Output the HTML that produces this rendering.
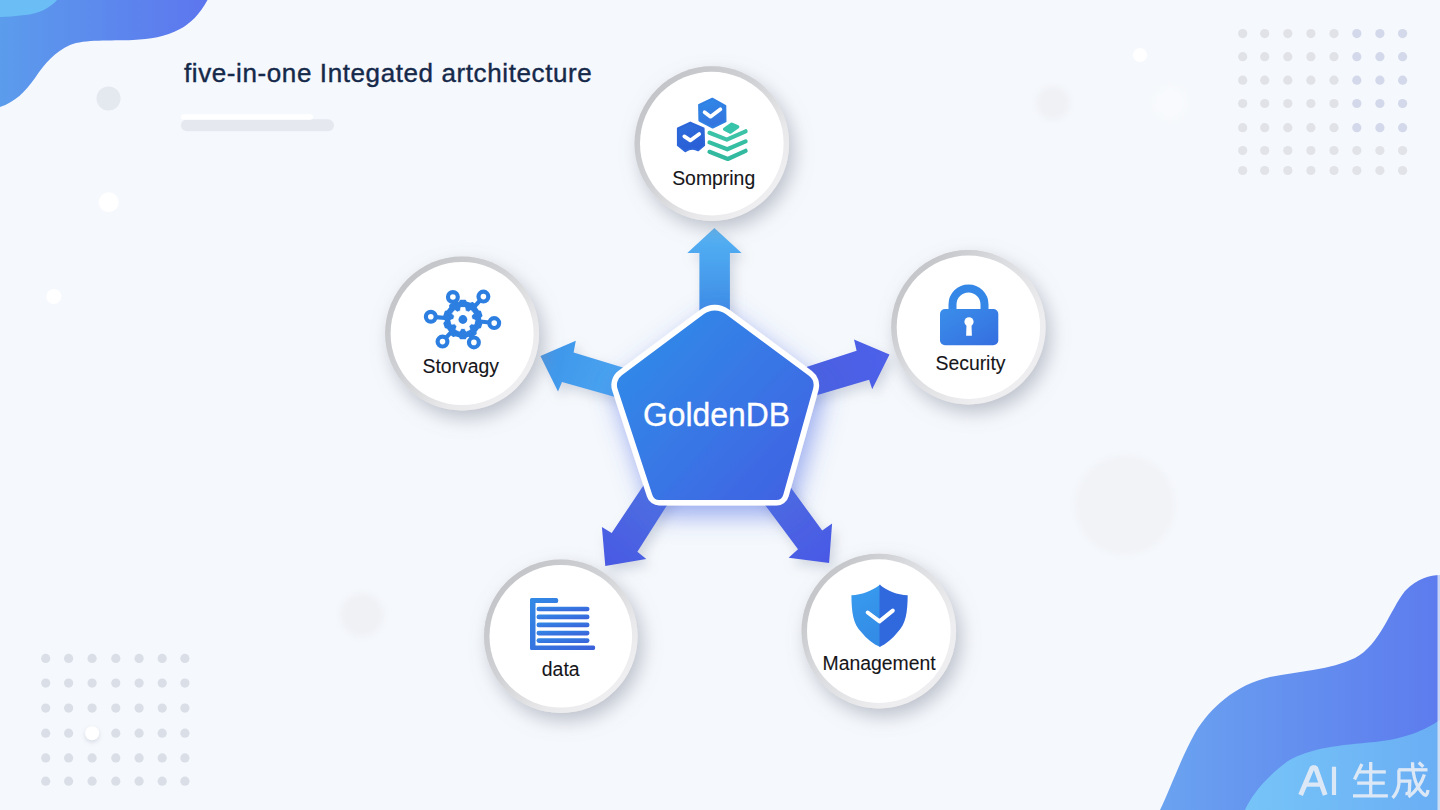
<!DOCTYPE html>
<html><head><meta charset="utf-8"><style>
html,body{margin:0;padding:0;}
body{width:1440px;height:810px;overflow:hidden;background:#f5f8fc;position:relative;font-family:"Liberation Sans",sans-serif;}
svg{position:absolute;left:0;top:0;}
.t{position:absolute;white-space:nowrap;line-height:1;}
</style></head><body>
<svg width="1440" height="810" viewBox="0 0 1440 810">
<defs>
<linearGradient id="bg" x1="0" y1="0" x2="1" y2="1"><stop offset="0" stop-color="#f5f8fc"/><stop offset="1" stop-color="#f5f8fc"/></linearGradient>
<linearGradient id="ring2" x1="0" y1="0.4" x2="0.6" y2="0.9"><stop offset="0" stop-color="#c6c7ca"/><stop offset="0.45" stop-color="#dcdde0"/><stop offset="1" stop-color="#eeeef0"/></linearGradient>
<linearGradient id="ring" x1="0" y1="0.25" x2="0.75" y2="1"><stop offset="0" stop-color="#c3c4c8"/><stop offset="0.4" stop-color="#d0d1d4"/><stop offset="0.75" stop-color="#e9e9eb"/><stop offset="1" stop-color="#f0f0f2"/></linearGradient>
<linearGradient id="pg" gradientUnits="userSpaceOnUse" x1="620" y1="320" x2="810" y2="500"><stop offset="0" stop-color="#2f8ee9"/><stop offset="1" stop-color="#4160e2"/></linearGradient>
<linearGradient id="agUp" gradientUnits="userSpaceOnUse" x1="714" y1="228" x2="714" y2="310"><stop offset="0" stop-color="#55b4f5"/><stop offset="1" stop-color="#3e8de6"/></linearGradient>
<linearGradient id="agL" gradientUnits="userSpaceOnUse" x1="540" y1="356" x2="620" y2="385"><stop offset="0" stop-color="#3e95ea"/><stop offset="1" stop-color="#4aa5f0"/></linearGradient>
<linearGradient id="agR" gradientUnits="userSpaceOnUse" x1="810" y1="380" x2="890" y2="355"><stop offset="0" stop-color="#4a60e0"/><stop offset="1" stop-color="#4d60ea"/></linearGradient>
<linearGradient id="agLL" gradientUnits="userSpaceOnUse" x1="655" y1="495" x2="605" y2="566"><stop offset="0" stop-color="#4f6fe0"/><stop offset="1" stop-color="#4858e4"/></linearGradient>
<linearGradient id="agLR" gradientUnits="userSpaceOnUse" x1="775" y1="495" x2="829" y2="563"><stop offset="0" stop-color="#4f6ae0"/><stop offset="1" stop-color="#4858e6"/></linearGradient>
<linearGradient id="blobTL" x1="0" y1="0" x2="1" y2="0"><stop offset="0" stop-color="#5b9cec"/><stop offset="1" stop-color="#5d76ee"/></linearGradient>
<linearGradient id="blobBR" x1="0" y1="0" x2="1" y2="0"><stop offset="0" stop-color="#6aa3f0"/><stop offset="1" stop-color="#5d7bee"/></linearGradient>
<linearGradient id="blobBR2" x1="0" y1="0" x2="1" y2="0"><stop offset="0" stop-color="#76c4f8"/><stop offset="1" stop-color="#6aaef4"/></linearGradient>
<filter id="nshadow" x="-40%" y="-40%" width="180%" height="190%"><feDropShadow dx="5" dy="8" stdDeviation="9" flood-color="#868c9c" flood-opacity="0.5"/></filter>
<filter id="ashadow" x="-40%" y="-40%" width="180%" height="180%"><feDropShadow dx="4" dy="6" stdDeviation="6" flood-color="#8a94ad" flood-opacity="0.35"/></filter>
<filter id="pshadow" x="-40%" y="-40%" width="180%" height="180%"><feDropShadow dx="4" dy="10" stdDeviation="12" flood-color="#4a66e4" flood-opacity="0.55"/></filter>
<filter id="softsh" x="-100%" y="-100%" width="300%" height="300%"><feDropShadow dx="0" dy="2" stdDeviation="2" flood-color="#9aa3b8" flood-opacity="0.35"/></filter>
<filter id="blur6"><feGaussianBlur stdDeviation="3"/></filter>
</defs>
<rect width="1440" height="810" fill="url(#bg)"/>
<!-- faint deco circles -->
<circle cx="108.5" cy="98.5" r="12" fill="#e4e8ef"/>
<circle cx="108.7" cy="202.3" r="10" fill="#ffffff"/>
<circle cx="53.8" cy="296.4" r="7.5" fill="#ffffff"/>
<circle cx="1140" cy="55" r="7" fill="#ffffff"/>
<circle cx="1053" cy="103" r="17" fill="#eff1f5" filter="url(#blur6)"/>
<circle cx="1170" cy="103" r="18" fill="#f8fafd" filter="url(#blur6)"/>
<circle cx="1125" cy="505" r="50" fill="#f1f3f7" filter="url(#blur6)"/>
<circle cx="362" cy="615" r="22" fill="#eff1f5" filter="url(#blur6)"/>
<g><circle cx="1242.7" cy="33.6" r="4.6" fill="#e0e2e8"/><circle cx="1264.7" cy="33.6" r="4.6" fill="#e0e2e8"/><circle cx="1287.8" cy="33.6" r="4.6" fill="#e0e2e8"/><circle cx="1310.9" cy="33.6" r="4.6" fill="#e0e2e8"/><circle cx="1334" cy="33.6" r="4.6" fill="#e0e2e8"/><circle cx="1356.8" cy="33.6" r="4.6" fill="#d3d9ea"/><circle cx="1379.9" cy="33.6" r="4.6" fill="#d3d9ea"/><circle cx="1402.6" cy="33.6" r="4.6" fill="#d3d9ea"/><circle cx="1242.7" cy="56.7" r="4.6" fill="#e0e2e8"/><circle cx="1264.7" cy="56.7" r="4.6" fill="#e0e2e8"/><circle cx="1287.8" cy="56.7" r="4.6" fill="#e0e2e8"/><circle cx="1310.9" cy="56.7" r="4.6" fill="#e0e2e8"/><circle cx="1334" cy="56.7" r="4.6" fill="#e0e2e8"/><circle cx="1356.8" cy="56.7" r="4.6" fill="#d3d9ea"/><circle cx="1379.9" cy="56.7" r="4.6" fill="#d3d9ea"/><circle cx="1402.6" cy="56.7" r="4.6" fill="#d3d9ea"/><circle cx="1242.7" cy="80.2" r="4.6" fill="#e0e2e8"/><circle cx="1264.7" cy="80.2" r="4.6" fill="#e0e2e8"/><circle cx="1287.8" cy="80.2" r="4.6" fill="#e0e2e8"/><circle cx="1310.9" cy="80.2" r="4.6" fill="#e0e2e8"/><circle cx="1334" cy="80.2" r="4.6" fill="#e0e2e8"/><circle cx="1356.8" cy="80.2" r="4.6" fill="#d3d9ea"/><circle cx="1379.9" cy="80.2" r="4.6" fill="#d3d9ea"/><circle cx="1402.6" cy="80.2" r="4.6" fill="#d3d9ea"/><circle cx="1242.7" cy="103.5" r="4.6" fill="#e0e2e8"/><circle cx="1264.7" cy="103.5" r="4.6" fill="#e0e2e8"/><circle cx="1287.8" cy="103.5" r="4.6" fill="#e0e2e8"/><circle cx="1310.9" cy="103.5" r="4.6" fill="#e0e2e8"/><circle cx="1334" cy="103.5" r="4.6" fill="#e0e2e8"/><circle cx="1356.8" cy="103.5" r="4.6" fill="#d3d9ea"/><circle cx="1379.9" cy="103.5" r="4.6" fill="#d3d9ea"/><circle cx="1402.6" cy="103.5" r="4.6" fill="#d3d9ea"/><circle cx="1242.7" cy="127.7" r="4.6" fill="#e0e2e8"/><circle cx="1264.7" cy="127.7" r="4.6" fill="#e0e2e8"/><circle cx="1287.8" cy="127.7" r="4.6" fill="#e0e2e8"/><circle cx="1310.9" cy="127.7" r="4.6" fill="#e0e2e8"/><circle cx="1334" cy="127.7" r="4.6" fill="#e0e2e8"/><circle cx="1356.8" cy="127.7" r="4.6" fill="#d3d9ea"/><circle cx="1379.9" cy="127.7" r="4.6" fill="#d3d9ea"/><circle cx="1402.6" cy="127.7" r="4.6" fill="#d3d9ea"/><circle cx="1242.7" cy="150.5" r="4.6" fill="#e1e3e8"/><circle cx="1264.7" cy="150.5" r="4.6" fill="#e1e3e8"/><circle cx="1287.8" cy="150.5" r="4.6" fill="#e1e3e8"/><circle cx="1310.9" cy="150.5" r="4.6" fill="#e1e3e8"/><circle cx="1334" cy="150.5" r="4.6" fill="#e1e3e8"/><circle cx="1356.8" cy="150.5" r="4.6" fill="#e1e3e8"/><circle cx="1379.9" cy="150.5" r="4.6" fill="#e1e3e8"/><circle cx="1402.6" cy="150.5" r="4.6" fill="#e1e3e8"/><circle cx="1242.7" cy="170.5" r="4.6" fill="#e1e3e8"/><circle cx="1264.7" cy="170.5" r="4.6" fill="#e1e3e8"/><circle cx="1287.8" cy="170.5" r="4.6" fill="#e1e3e8"/><circle cx="1310.9" cy="170.5" r="4.6" fill="#e1e3e8"/><circle cx="1334" cy="170.5" r="4.6" fill="#e1e3e8"/><circle cx="1356.8" cy="170.5" r="4.6" fill="#e1e3e8"/><circle cx="1379.9" cy="170.5" r="4.6" fill="#e1e3e8"/><circle cx="1402.6" cy="170.5" r="4.6" fill="#e1e3e8"/><circle cx="45.7" cy="658.4" r="4.6" fill="#dadee7"/><circle cx="68.6" cy="658.4" r="4.6" fill="#dadee7"/><circle cx="92.1" cy="658.4" r="4.6" fill="#dadee7"/><circle cx="115.8" cy="658.4" r="4.6" fill="#dadee7"/><circle cx="139.1" cy="658.4" r="4.6" fill="#dadee7"/><circle cx="162.2" cy="658.4" r="4.6" fill="#dadee7"/><circle cx="184.9" cy="658.4" r="4.6" fill="#dadee7"/><circle cx="45.7" cy="683.1" r="4.6" fill="#dadee7"/><circle cx="68.6" cy="683.1" r="4.6" fill="#dadee7"/><circle cx="92.1" cy="683.1" r="4.6" fill="#dadee7"/><circle cx="115.8" cy="683.1" r="4.6" fill="#dadee7"/><circle cx="139.1" cy="683.1" r="4.6" fill="#dadee7"/><circle cx="162.2" cy="683.1" r="4.6" fill="#dadee7"/><circle cx="184.9" cy="683.1" r="4.6" fill="#dadee7"/><circle cx="45.7" cy="708.1" r="4.6" fill="#dadee7"/><circle cx="68.6" cy="708.1" r="4.6" fill="#dadee7"/><circle cx="92.1" cy="708.1" r="4.6" fill="#dadee7"/><circle cx="115.8" cy="708.1" r="4.6" fill="#dadee7"/><circle cx="139.1" cy="708.1" r="4.6" fill="#dadee7"/><circle cx="162.2" cy="708.1" r="4.6" fill="#dadee7"/><circle cx="184.9" cy="708.1" r="4.6" fill="#dadee7"/><circle cx="45.7" cy="733.2" r="4.6" fill="#dadee7"/><circle cx="68.6" cy="733.2" r="4.6" fill="#dadee7"/><circle cx="92.1" cy="733.2" r="7" fill="#ffffff" filter="url(#softsh)"/><circle cx="115.8" cy="733.2" r="4.6" fill="#dadee7"/><circle cx="139.1" cy="733.2" r="4.6" fill="#dadee7"/><circle cx="162.2" cy="733.2" r="4.6" fill="#dadee7"/><circle cx="184.9" cy="733.2" r="4.6" fill="#dadee7"/><circle cx="45.7" cy="757.9" r="4.6" fill="#dadee7"/><circle cx="68.6" cy="757.9" r="4.6" fill="#dadee7"/><circle cx="92.1" cy="757.9" r="4.6" fill="#dadee7"/><circle cx="115.8" cy="757.9" r="4.6" fill="#dadee7"/><circle cx="139.1" cy="757.9" r="4.6" fill="#dadee7"/><circle cx="162.2" cy="757.9" r="4.6" fill="#dadee7"/><circle cx="184.9" cy="757.9" r="4.6" fill="#dadee7"/><circle cx="45.7" cy="781.2" r="4.6" fill="#dadee7"/><circle cx="68.6" cy="781.2" r="4.6" fill="#dadee7"/><circle cx="92.1" cy="781.2" r="4.6" fill="#dadee7"/><circle cx="115.8" cy="781.2" r="4.6" fill="#dadee7"/><circle cx="139.1" cy="781.2" r="4.6" fill="#dadee7"/><circle cx="162.2" cy="781.2" r="4.6" fill="#dadee7"/><circle cx="184.9" cy="781.2" r="4.6" fill="#dadee7"/></g>
<!-- blobs -->
<path d="M0,0 L207.5,0 C200,14 190,24 180,29 C165,37 150,39 133,40 C110,41 85,39 70,45 C55,52 45,63 35,78 C25,92 15,102 0,107 Z" fill="url(#blobTL)"/>
<path d="M0,0 L57,0 C50,8 38,14 25,15 C15,16 7,17 0,17 Z" fill="#6cc2f6" opacity="0.9"/>
<path d="M1160,810 C1170,790 1180,760 1195,733 C1210,708 1235,685 1270,677 C1300,671 1330,670 1355,658 C1380,645 1390,610 1405,591 C1418,578 1430,575 1440,575 L1440,810 Z" fill="url(#blobBR)"/>
<path d="M1245,810 C1252,795 1265,778 1288,761 C1310,748 1340,745 1375,742 C1405,739 1425,730 1440,720 L1440,810 Z" fill="url(#blobBR2)"/>
<!-- arrows -->
<g filter="url(#ashadow)">
<path d="M714.4,228 L741.6,253 L729.9,253 L729.9,340 L699.4,340 L699.4,253 L687.3,253Z" fill="url(#agUp)"/>
<path d="M540.4,356 L575.8,340.8 L573.6,352.6 L651.6,376.3 L639.9,404 L562,381.9 L558,391.4Z" fill="url(#agL)"/>
<path d="M889.5,354.6 L854,339.5 L856.6,350.7 L777.1,376.5 L789.7,403.3 L869.1,379.7 L872.2,389.2Z" fill="url(#agR)"/>
<path d="M605.3,566 L601.9,527 L611.7,533 L656.1,466.4 L680.4,484.3 L637.4,551.7 L646.3,559.1Z" fill="url(#agLL)"/>
<path d="M829.1,563.1 L832.1,523.6 L822.2,530.5 L775,466 L750.2,485.1 L798,549.3 L788.6,557.7Z" fill="url(#agLR)"/>

</g>
<!-- pentagon -->
<path d="M702.27,311.75 A21,21 0 0 1 727.35,311.72 L810.27,373.29 A15,15 0 0 1 815.77,389.39 L785.98,495.50 A10,10 0 0 1 776.34,502.80 L659.19,502.72 A10,10 0 0 1 649.70,495.84 L614.89,389.70 A15,15 0 0 1 620.18,373.00 Z" fill="url(#pg)" stroke="#ffffff" stroke-width="5.6" filter="url(#pshadow)"/>
<!-- nodes -->
<circle cx="711.8" cy="143.6" r="77.3" fill="#e0e1e4" filter="url(#nshadow)"/>
<circle cx="711.8" cy="143.6" r="77.3" fill="url(#ring)"/>
<circle cx="711.8" cy="143.6" r="71.8" fill="#ffffff"/>
<circle cx="462.1" cy="333.5" r="77" fill="#e0e1e4" filter="url(#nshadow)"/>
<circle cx="462.1" cy="333.5" r="77" fill="url(#ring)"/>
<circle cx="462.1" cy="333.5" r="71.5" fill="#ffffff"/>
<circle cx="968.4" cy="327.3" r="77.2" fill="#e0e1e4" filter="url(#nshadow)"/>
<circle cx="968.4" cy="327.3" r="77.2" fill="url(#ring2)"/>
<circle cx="968.4" cy="327.3" r="71.7" fill="#ffffff"/>
<circle cx="560.8" cy="636.3" r="76.8" fill="#e0e1e4" filter="url(#nshadow)"/>
<circle cx="560.8" cy="636.3" r="76.8" fill="url(#ring)"/>
<circle cx="560.8" cy="636.3" r="71.3" fill="#ffffff"/>
<circle cx="878.8" cy="631.1" r="77.3" fill="#e0e1e4" filter="url(#nshadow)"/>
<circle cx="878.8" cy="631.1" r="77.3" fill="url(#ring2)"/>
<circle cx="878.8" cy="631.1" r="71.8" fill="#ffffff"/>


<!-- title bar -->
<rect x="181" y="119.2" width="153" height="12" rx="6" fill="#e5e8ef"/>
<rect x="181" y="114.2" width="132" height="5.5" rx="2.75" fill="#ffffff"/>
<!-- icon: Sompring -->
<g>
 <defs><linearGradient id="hx1" x1="0" y1="0" x2="0.3" y2="1"><stop offset="0" stop-color="#2f8ae9"/><stop offset="1" stop-color="#3474de"/></linearGradient><linearGradient id="hx2" x1="0" y1="0" x2="0.3" y2="1"><stop offset="0" stop-color="#2e6fdc"/><stop offset="1" stop-color="#2a5ed6"/></linearGradient></defs>
 <path d="M712.3,98.7 L725.3,105.8 L725.5,121.4 L712.7,127.5 L699.4,120.6 L699.1,104.8 Z" fill="url(#hx1)" stroke="#3080e4" stroke-width="2" stroke-linejoin="round"/>
 <path d="M704.6,112.2 L710.5,116.7 L720.4,109.3" fill="none" stroke="#fff" stroke-width="3.7" stroke-linecap="round" stroke-linejoin="round"/>
 <path d="M690.3,122.6 L703.6,128.5 L704.1,145.3 L698.2,150.3 Q692,146.5 685.3,151.3 L677.9,145.3 L677.9,128.5 Z" fill="url(#hx2)" stroke="#2c66d9" stroke-width="2" stroke-linejoin="round"/>
 <path d="M684.3,136.4 L690.3,140.4 L699.2,134" fill="none" stroke="#fff" stroke-width="3.7" stroke-linecap="round" stroke-linejoin="round"/>
 <path d="M724.8,129.2 L731.8,124.3 L737.6,126.8 L730.2,132 Z" fill="#38c4aa" stroke="#38c4aa" stroke-width="3.6" stroke-linejoin="round"/>
 <path d="M709.5,132.8 L726.8,139.6 L745.6,131.3" fill="none" stroke="#3cc3a7" stroke-width="4.2" stroke-linecap="round" stroke-linejoin="round"/>
 <path d="M709.5,142.4 L727.3,149.3 L745.6,141.4" fill="none" stroke="#36bea3" stroke-width="4.2" stroke-linecap="round" stroke-linejoin="round"/>
 <path d="M709.5,151.8 L727.8,159.0 L745.6,150.8" fill="none" stroke="#33b99f" stroke-width="4.2" stroke-linecap="round" stroke-linejoin="round"/>
</g>
<!-- icon: Storvagy -->
<g fill="#2c7fe0" stroke="#2c7fe0">
 <g stroke-width="4.2" stroke-linecap="butt">
  <line x1="462.9" y1="319.5" x2="454.93" y2="301.57"/>
  <line x1="462.9" y1="319.5" x2="480.07" y2="300.33"/>
  <line x1="462.9" y1="319.5" x2="489.23" y2="322.53"/>
  <line x1="462.9" y1="319.5" x2="471.74" y2="337.89"/>
  <line x1="462.9" y1="319.5" x2="445.89" y2="337.93"/>
  <line x1="462.9" y1="319.5" x2="435.78" y2="317.13"/>
 </g>
 <circle cx="452.9" cy="297" r="4.9" fill="#fff" stroke-width="4.2"/>
 <circle cx="483.4" cy="296.6" r="4.9" fill="#fff" stroke-width="4.2"/>
 <circle cx="494.2" cy="323.1" r="4.9" fill="#fff" stroke-width="4.2"/>
 <circle cx="473.9" cy="342.4" r="4.9" fill="#fff" stroke-width="4.2"/>
 <circle cx="442.5" cy="341.6" r="4.9" fill="#fff" stroke-width="4.2"/>
 <circle cx="430.8" cy="316.7" r="4.9" fill="#fff" stroke-width="4.2"/>
 <polygon points="459.60,302.21 460.61,300.44 465.19,300.44 466.20,302.21 470.39,303.58 472.26,302.73 475.96,305.42 475.73,307.45 478.32,311.02 480.32,311.43 481.74,315.78 480.36,317.29 480.36,321.71 481.74,323.22 480.32,327.57 478.32,327.98 475.73,331.55 475.96,333.58 472.26,336.27 470.39,335.42 466.20,336.79 465.19,338.56 460.61,338.56 459.60,336.79 455.41,335.42 453.54,336.27 449.84,333.58 450.07,331.55 447.48,327.98 445.48,327.57 444.06,323.22 445.44,321.71 445.44,317.29 444.06,315.78 445.48,311.43 447.48,311.02 450.07,307.45 449.84,305.42 453.54,302.73 455.41,303.58" stroke-width="1.5" stroke-linejoin="round"/>
 <polygon points="460.45,310.63 460.83,307.48 464.97,307.48 465.35,310.63 468.31,312.06 471.01,310.38 473.59,313.62 471.36,315.88 472.09,319.09 475.08,320.16 474.16,324.19 471.00,323.86 468.95,326.43 469.98,329.43 466.25,331.23 464.54,328.55 461.26,328.55 459.55,331.23 455.82,329.43 456.85,326.43 454.80,323.86 451.64,324.19 450.72,320.16 453.71,319.09 454.44,315.88 452.21,313.62 454.79,310.38 457.49,312.06" fill="#ffffff" stroke="#ffffff" stroke-width="0.8" stroke-linejoin="round"/>
 <circle cx="462.9" cy="319.5" r="4.4" stroke="none"/>
</g>
<!-- icon: Security -->
<defs><linearGradient id="lockg" x1="0" y1="0" x2="1" y2="1"><stop offset="0" stop-color="#3a8eea"/><stop offset="1" stop-color="#356ee0"/></linearGradient></defs>
<path d="M952.5,313 L952.5,304.5 A16,16 0 0 1 984.5,304.5 L984.5,313" fill="none" stroke="#3487e6" stroke-width="8"/>
<rect x="940" y="309" width="58.3" height="36.3" rx="5" fill="url(#lockg)"/>
<circle cx="969" cy="321.8" r="4.6" fill="#fff"/>
<path d="M966.6,322 L971.4,322 L971.9,335.7 L966.1,335.7 Z" fill="#fff"/>
<!-- icon: data -->
<defs><linearGradient id="datag" x1="0" y1="0" x2="1" y2="1"><stop offset="0" stop-color="#318ae6"/><stop offset="1" stop-color="#3b60da"/></linearGradient></defs>
<g fill="url(#datag)">
 <path d="M530,599.5 Q530,598 531.5,598 L556.5,598 Q558.3,598 558.3,600.5 Q558.3,603 556.5,603 L535.5,603 L535.5,645.6 L593.5,645.6 Q595.2,645.6 595.2,647.8 Q595.2,650 593.5,650 L531.5,650 Q530,650 530,648.5 Z"/>
 <rect x="536.5" y="606.7" width="53" height="4.6" rx="2.3"/>
 <rect x="536.5" y="614.6" width="53" height="4.6" rx="2.3"/>
 <rect x="536.5" y="622.6" width="53" height="4.6" rx="2.3"/>
 <rect x="536.5" y="630.8" width="53" height="4.6" rx="2.3"/>
 <rect x="536.5" y="638.3" width="53" height="4.6" rx="2.3"/>
</g>
<!-- icon: Management -->
<path d="M880.3,584.4 C871,591.5 862,594.5 851.4,595.2 C851.6,612 853,624 861.2,632 C867,639 873,644 880.3,647.1 Z" fill="url(#shL)"/>
<defs><linearGradient id="shL" x1="0" y1="0" x2="0.3" y2="1"><stop offset="0" stop-color="#389def"/><stop offset="1" stop-color="#338ce6"/></linearGradient></defs>
<path d="M879.5,584.4 C888,591.5 897,594.5 907.7,595.2 C907.5,612 906,624 897.8,632 C892,639 886,644 879.5,647.1 Z" fill="#3069de"/>
<path d="M867.7,612.5 L879.5,621.4 L892.8,610.6" fill="none" stroke="#ffffff" stroke-width="4" stroke-linecap="round" stroke-linejoin="round"/>
<text x="643" y="425.8" font-family="Liberation Sans, sans-serif" font-size="34" fill="#ffffff" stroke="#ffffff" stroke-width="0.3" textLength="147" lengthAdjust="spacingAndGlyphs">GoldenDB</text>
<!-- labels -->
<g font-family="Liberation Sans, sans-serif" font-size="19.4" fill="#16161a" stroke="#16161a" stroke-width="0.1" text-anchor="middle">
 <text x="713.7" y="184.5">Sompring</text>
 <text x="460.8" y="372.8">Storvagy</text>
 <text x="970.5" y="369.9">Security</text>
 <text x="560.7" y="676.3">data</text>
 <text x="879.1" y="669.6">Management</text>
</g>
<rect x="1437.5" y="575" width="2.5" height="235" fill="#e3eaf6" opacity="0.8"/>
<!-- watermark -->
<g fill="none" stroke="#dde8f6" stroke-width="4.2" stroke-linejoin="miter">
 <path d="M1300.6,795 L1312.2,767.8 L1315.6,767.8 L1325.2,795" stroke-linejoin="bevel" stroke-width="4.9"/>
 <path d="M1305.5,784.6 L1321.5,784.6"/>
 <path d="M1334,766.7 L1334,795"/>
</g>
<g fill="none" stroke="#dde8f6" stroke-width="3.3" stroke-linecap="butt">
 <path d="M1361.9,764 L1354.5,779.5"/>
 <path d="M1357.7,771.9 L1385.8,771.9"/>
 <path d="M1370.7,762 L1370.7,795.8"/>
 <path d="M1357.2,783.1 L1384.8,783.1"/>
 <path d="M1353,795.8 L1387.9,795.8"/>
 <path d="M1398.3,769.8 L1427.5,769.8"/>
 <path d="M1398.9,769.8 L1398.9,784 Q1398,792 1392.6,797.8"/>
 <path d="M1398.9,781.2 L1409.8,781.2 L1409.3,791.5 Q1409,793.8 1405.5,793.5"/>
 <path d="M1412.5,762.2 Q1413,785 1424,794.5 Q1427,797 1428,790"/>
 <path d="M1424.4,774.5 Q1420,788 1408.5,797"/>
 <path d="M1418.8,762.5 L1423.3,766.8"/>
</g>

</svg>
<div class="t" style="left:184px;top:59.5px;font-size:26px;letter-spacing:0.6px;color:#15294a;-webkit-text-stroke:0.4px #15294a;">five-in-one Integated artchitecture</div>

</body></html>
